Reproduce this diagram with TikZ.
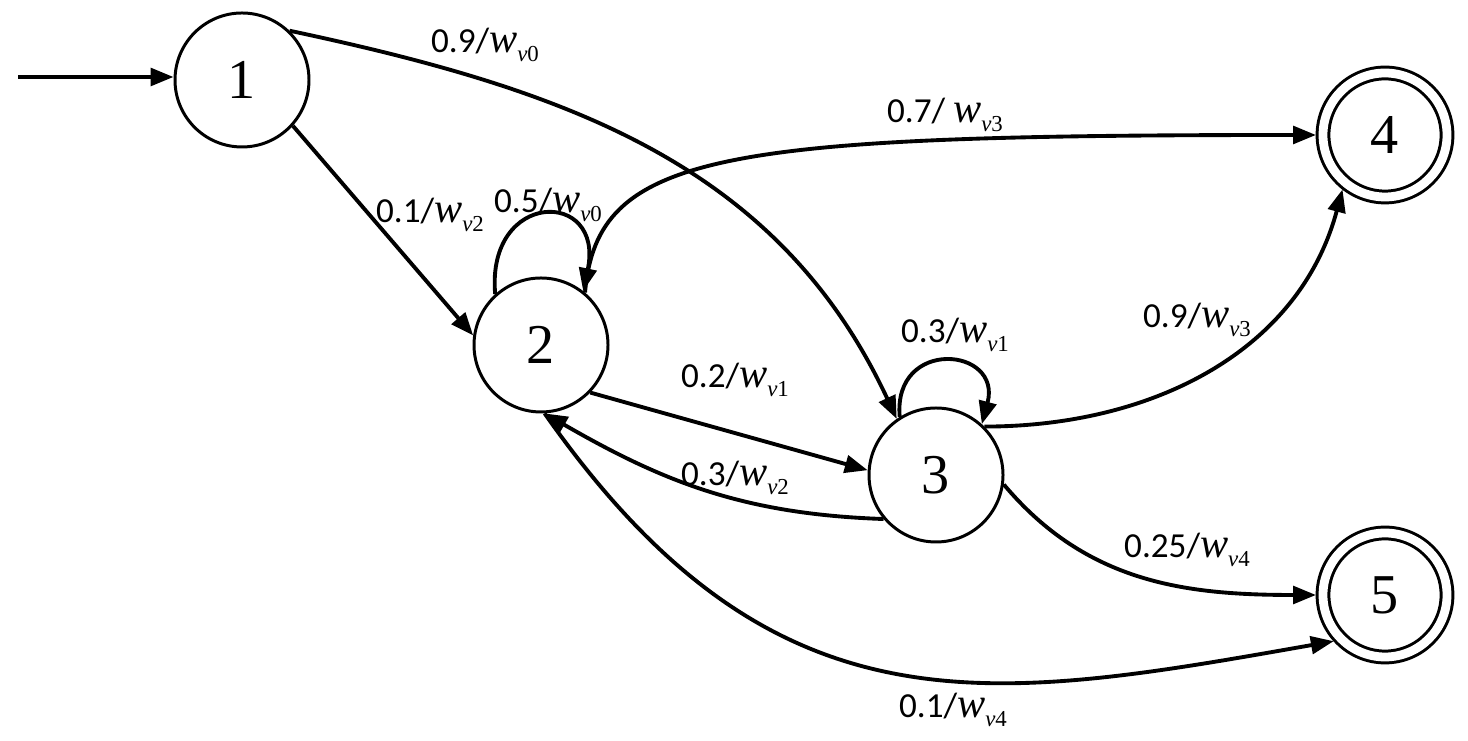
\documentclass[tikz,border=0pt]{standalone}
\usepackage{fontspec}
\setmainfont{Carlito}
\newfontfamily\tnr{Liberation Serif}
\usetikzlibrary{arrows.meta,positioning}
\newcommand{\wv}[1]{{\tnr\itshape\fontsize{24}{24}\selectfont w}\raisebox{-0.55ex}{\tnr\fontsize{13}{13}\selectfont{\itshape v}#1}}
\tikzset{
  state/.style={draw,circle,line width=1.7pt,minimum size=2.68cm,inner sep=0pt,font=\tnr\fontsize{32}{32}\selectfont},
  accept/.style={state,minimum size=2.48cm,double,double distance=5pt,outer sep=4pt},
  trans/.style={-{Triangle[length=13pt,width=10pt]},line width=2.2pt},
  wlab/.style={font=\fontsize{20}{20}\selectfont,inner sep=1pt},
}
\begin{document}
\begin{tikzpicture}
  \useasboundingbox (0,0) rectangle (29.36,14.82);
  % states
  \node[state] (n1) at (4.84,13.22) {1};
  \node[state] (n2) at (10.82,7.92) {2};
  \node[state] (n3) at (18.72,5.32) {3};
  \node[accept] (n4) at (27.7,12.12) {4};
  \node[accept] (n5) at (27.7,2.92) {5};
  \coordinate (start) at (0.36,13.28);
  % transitions
  \draw[trans] (start) -- (n1.west |- start);
  \draw[trans] (n1.46) to[out=-12,in=115] (n3.125);
  \draw[trans] (n1.-42) -- (n2.172);
  \draw[trans] (n2.132) .. controls +(95:2.1) and +(78:2.1) .. (n2.52);
  \draw[trans] (n2.50) .. controls +(85:2.8) and +(180:12) .. (n4.west);
  \draw[trans] (n2.-44) -- (n3.176);
  \draw[trans] (n3.220) to[out=178,in=-30] (n2.-87);
  \draw[trans] (n2.-87) .. controls +(-55:8) and +(190:7) .. (n5.222);
  \draw[trans] (n3.122) .. controls +(95:1.6) and +(75:1.6) .. (n3.48);
  \draw[trans] (n3.45) to[out=0,in=255] (n4.232);
  \draw[trans] (n3.-8) to[out=-50,in=180] (n5.west);
  % labels
  \node[wlab] (l13) at (9.70,13.92) {0.9/\wv{0}};
  \node[wlab] (l12) at (8.60,10.52) {0.1/\wv{2}};
  \node[wlab] (l22) at (10.96,10.72) {0.5/\wv{0}};
  \node[wlab] (l24) at (18.90,12.52) {0.7/ \wv{3}};
  \node[wlab] (l23) at (14.70,7.22) {0.2/\wv{1}};
  \node[wlab] (l32) at (14.70,5.26) {0.3/\wv{2}};
  \node[wlab] (l33) at (19.10,8.12) {0.3/\wv{1}};
  \node[wlab] (l34) at (23.94,8.42) {0.9/\wv{3}};
  \node[wlab] (l35) at (23.74,3.82) {0.25/\wv{4}};
  \node[wlab] (l25) at (19.06,0.62) {0.1/\wv{4}};
\end{tikzpicture}
\end{document}
